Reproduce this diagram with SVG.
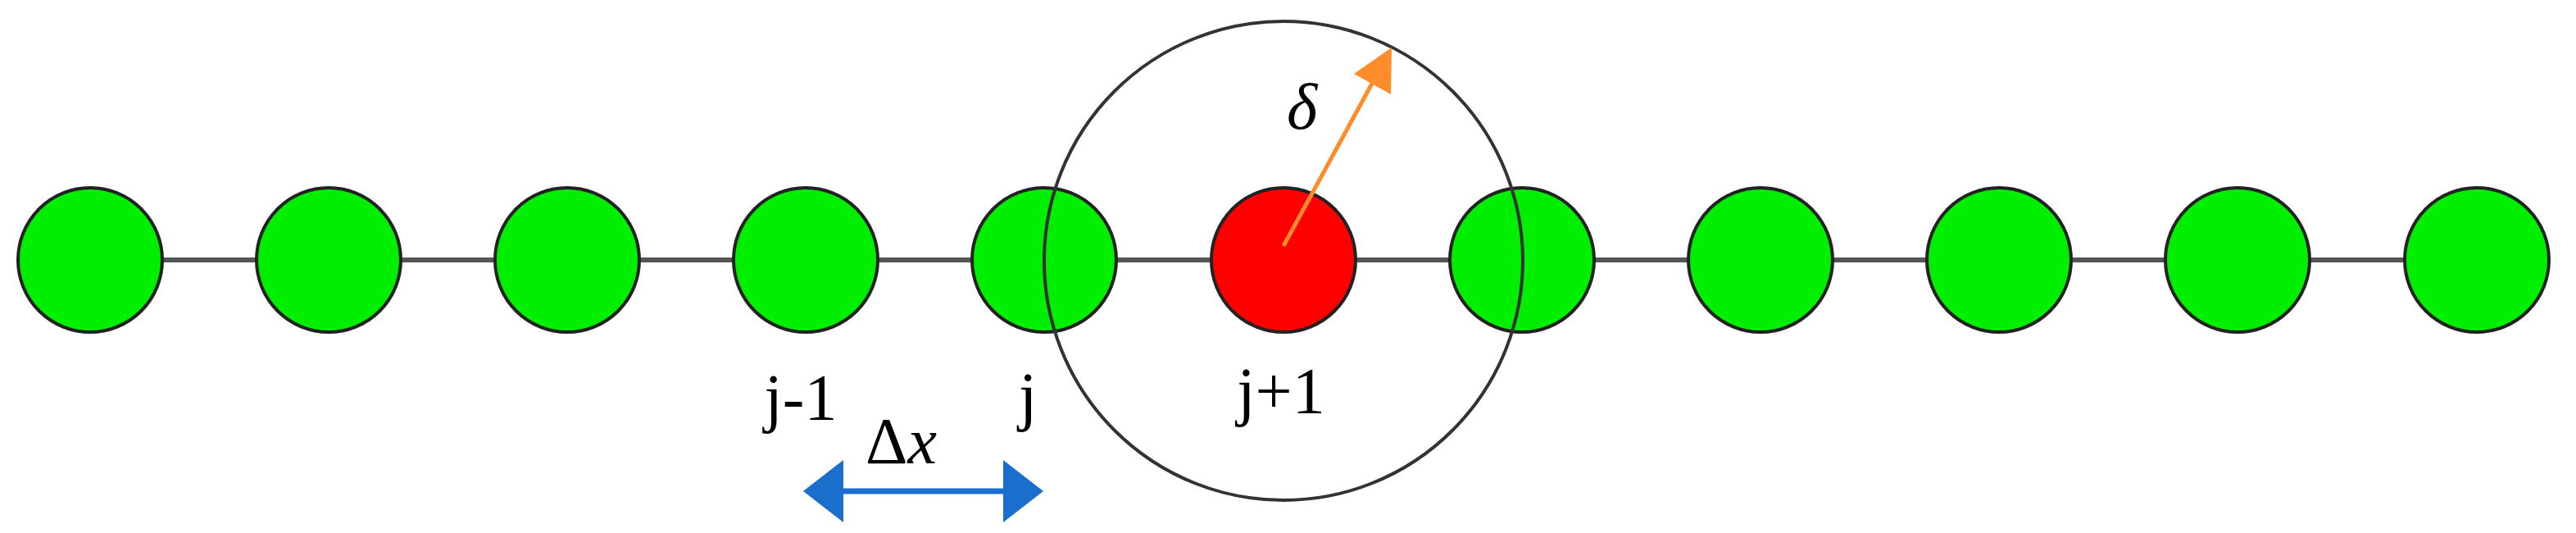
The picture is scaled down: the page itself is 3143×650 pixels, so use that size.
<svg xmlns="http://www.w3.org/2000/svg" width="3143" height="650" viewBox="0 0 3143 650">
<style>
.n{fill:#00ee00;stroke:#222;stroke-width:4}
.r{fill:#ff0000;stroke:#222;stroke-width:4}
text{font-family:"Liberation Serif","DejaVu Serif",serif;font-size:80px;fill:#000}
.i{font-style:italic}
</style>
<g id="connectors">
<line x1="110" y1="317" x2="3022" y2="317" stroke="#555" stroke-width="6"/>
</g>
<g id="n1"><circle class="n" cx="110" cy="317" r="88"/></g>
<g id="n2"><circle class="n" cx="401" cy="317" r="88"/></g>
<g id="n3"><circle class="n" cx="692" cy="317" r="88"/></g>
<g id="n4"><circle class="n" cx="983" cy="317" r="88"/></g>
<g id="n5"><circle class="n" cx="1274" cy="317" r="88"/></g>
<g id="n6"><circle class="r" cx="1566" cy="317" r="88"/></g>
<g id="n7"><circle class="n" cx="1857" cy="317" r="88"/></g>
<g id="n8"><circle class="n" cx="2148" cy="317" r="88"/></g>
<g id="n9"><circle class="n" cx="2439" cy="317" r="88"/></g>
<g id="n10"><circle class="n" cx="2730" cy="317" r="88"/></g>
<g id="n11"><circle class="n" cx="3022" cy="317" r="88"/></g>
<g id="range"><circle cx="1566" cy="318" r="292" fill="none" stroke="#333" stroke-width="4"/></g>
<g id="delta">
<line x1="1566" y1="300" x2="1675" y2="100" stroke="#ff8c2a" stroke-width="5"/>
<path d="M1698,58 L1652,90 L1697,115 z" fill="#ff8c2a"/>
<text class="i" x="1570" y="157" font-size="86">δ</text>
</g>
<g id="dx">
<line x1="1028" y1="599" x2="1225" y2="599" stroke="#1a6fcc" stroke-width="7"/>
<path d="M980,599 L1029,561 L1029,637 z" fill="#1a6fcc"/>
<path d="M1273,599 L1224,561 L1224,637 z" fill="#1a6fcc"/>
<text x="1056" y="565">Δ<tspan class="i">x</tspan></text>
</g>
<text x="977" y="512" text-anchor="middle">j-1</text>
<text x="1254" y="510" text-anchor="middle">j</text>
<text x="1563" y="504" text-anchor="middle">j+1</text>
</svg>
